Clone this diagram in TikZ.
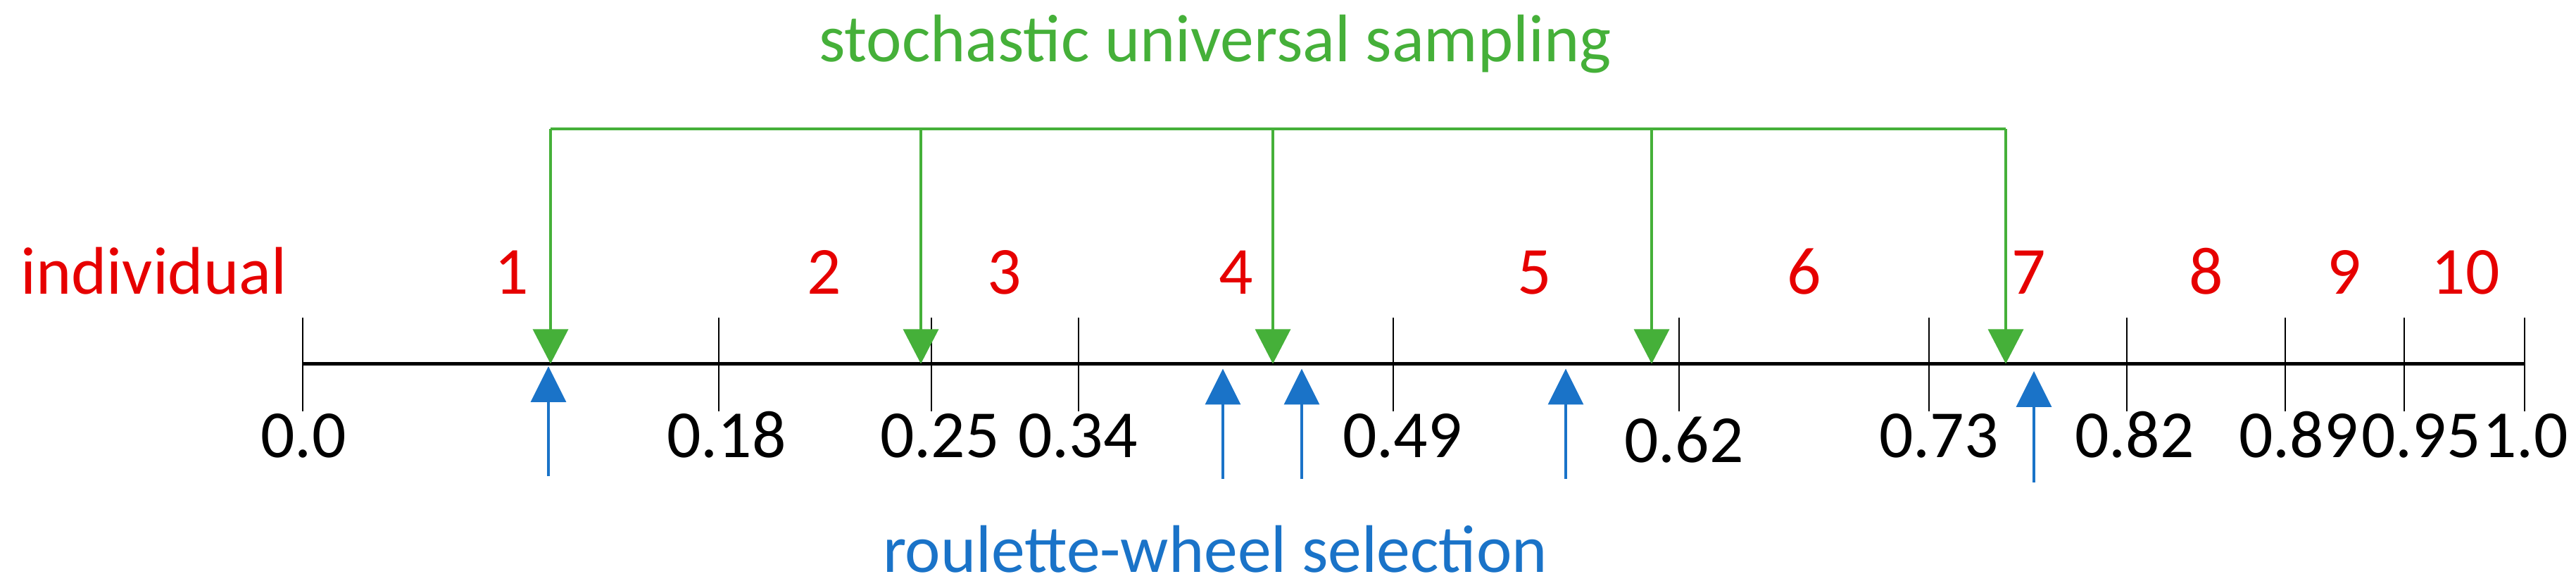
\documentclass[tikz,border=0pt]{standalone}
\usepackage{fontspec}
\setmainfont{Carlito}
\usepackage{xcolor}
\usepackage{tikz}
\usetikzlibrary{arrows.meta}
\definecolor{susGreen}{RGB}{69,176,57}
\definecolor{indRed}{RGB}{230,0,0}
\definecolor{rwsBlue}{RGB}{26,115,200}
\tikzstyle{axisLine} = [line width=1.2pt, black]
\tikzstyle{tickLine} = [line width=0.6pt, black]
\tikzstyle{susLine} = [line width=1.1pt, susGreen]
\tikzstyle{susArrow} = [line width=0.9pt, susGreen, -{Triangle[length=4.9mm,width=5mm]}]
\tikzstyle{rwsArrow} = [line width=0.9pt, rwsBlue, -{Triangle[length=5.1mm,width=5mm]}]
\tikzstyle{idxText} = [indRed, anchor=base, inner sep=0pt]
\tikzstyle{valText} = [black, anchor=base, inner sep=0pt]

\begin{document}
\begin{tikzpicture}[font=\fontsize{27.2pt}{31pt}\selectfont]
  \useasboundingbox (0,0) rectangle (36.59,8.32);

  \node[susGreen,anchor=base,inner sep=0pt] at (17.26,7.44)(sus){stochastic universal sampling};
  \node[rwsBlue,anchor=base,inner sep=0pt] at (17.26,0.19)(rws){roulette-wheel selection};
  \node[indRed,anchor=base west,inner sep=0pt] at (0.29,4.14)(ind){individual};

  \node[idxText] at (7.27,4.14)(i1){1};
  \node[idxText] at (11.71,4.14)(i2){2};
  \node[idxText] at (14.27,4.14)(i3){3};
  \node[idxText] at (17.56,4.14)(i4){4};
  \node[idxText] at (21.80,4.14)(i5){5};
  \node[idxText] at (25.63,4.14)(i6){6};
  \node[idxText] at (28.82,4.14)(i7){7};
  \node[idxText] at (31.34,4.14)(i8){8};
  \node[idxText] at (33.30,4.14)(i9){9};
  \node[idxText] at (35.02,4.14)(i10){10};

  \node[valText] at (4.31,1.82)(v0){0.0};
  \node[valText] at (10.32,1.82)(v18){0.18};
  \node[valText] at (13.35,1.82)(v25){0.25};
  \node[valText] at (15.31,1.82)(v34){0.34};
  \node[valText] at (19.92,1.82)(v49){0.49};
  \node[valText] at (23.92,1.75)(v62){0.62};
  \node[valText] at (27.54,1.82)(v73){0.73};
  \node[valText] at (30.32,1.82)(v82){0.82};
  \node[valText] at (32.65,1.82)(v89){0.89};
  \node[valText] at (34.39,1.82)(v95){0.95};
  \node[valText] at (35.87,1.82)(v100){1.0};

  \draw[axisLine] (4.30,3.155) -- (35.86,3.155);
  \draw[tickLine] (4.30,2.48) -- (4.30,3.81);
  \draw[tickLine] (10.21,2.48) -- (10.21,3.81);
  \draw[tickLine] (13.23,2.48) -- (13.23,3.81);
  \draw[tickLine] (15.32,2.48) -- (15.32,3.81);
  \draw[tickLine] (19.79,2.48) -- (19.79,3.81);
  \draw[tickLine] (23.85,2.48) -- (23.85,3.81);
  \draw[tickLine] (27.40,2.48) -- (27.40,3.81);
  \draw[tickLine] (30.21,2.48) -- (30.21,3.81);
  \draw[tickLine] (32.46,2.48) -- (32.46,3.81);
  \draw[tickLine] (34.15,2.48) -- (34.15,3.81);
  \draw[tickLine] (35.86,2.48) -- (35.86,3.81);

  \coordinate (g1) at (7.82,6.49);
  \coordinate (g2) at (13.08,6.49);
  \coordinate (g3) at (18.08,6.49);
  \coordinate (g4) at (23.46,6.49);
  \coordinate (g5) at (28.49,6.49);
  \coordinate (h1) at (7.82,3.155);
  \coordinate (h2) at (13.08,3.155);
  \coordinate (h3) at (18.08,3.155);
  \coordinate (h4) at (23.46,3.155);
  \coordinate (h5) at (28.49,3.155);
  \draw[susLine] (g1) -- (g5);
  \draw[susArrow] (g1) -- (h1);
  \draw[susArrow] (g2) -- (h2);
  \draw[susArrow] (g3) -- (h3);
  \draw[susArrow] (g4) -- (h4);
  \draw[susArrow] (g5) -- (h5);

  \coordinate (r1) at (7.79,1.56);
  \coordinate (r2) at (17.37,1.52);
  \coordinate (r3) at (18.49,1.52);
  \coordinate (r4) at (22.24,1.52);
  \coordinate (r5) at (28.89,1.47);
  \coordinate (s1) at (7.79,3.12);
  \coordinate (s2) at (17.37,3.085);
  \coordinate (s3) at (18.49,3.085);
  \coordinate (s4) at (22.24,3.085);
  \coordinate (s5) at (28.89,3.05);
  \draw[rwsArrow] (r1) -- (s1);
  \draw[rwsArrow] (r2) -- (s2);
  \draw[rwsArrow] (r3) -- (s3);
  \draw[rwsArrow] (r4) -- (s4);
  \draw[rwsArrow] (r5) -- (s5);
\end{tikzpicture}
\end{document}
